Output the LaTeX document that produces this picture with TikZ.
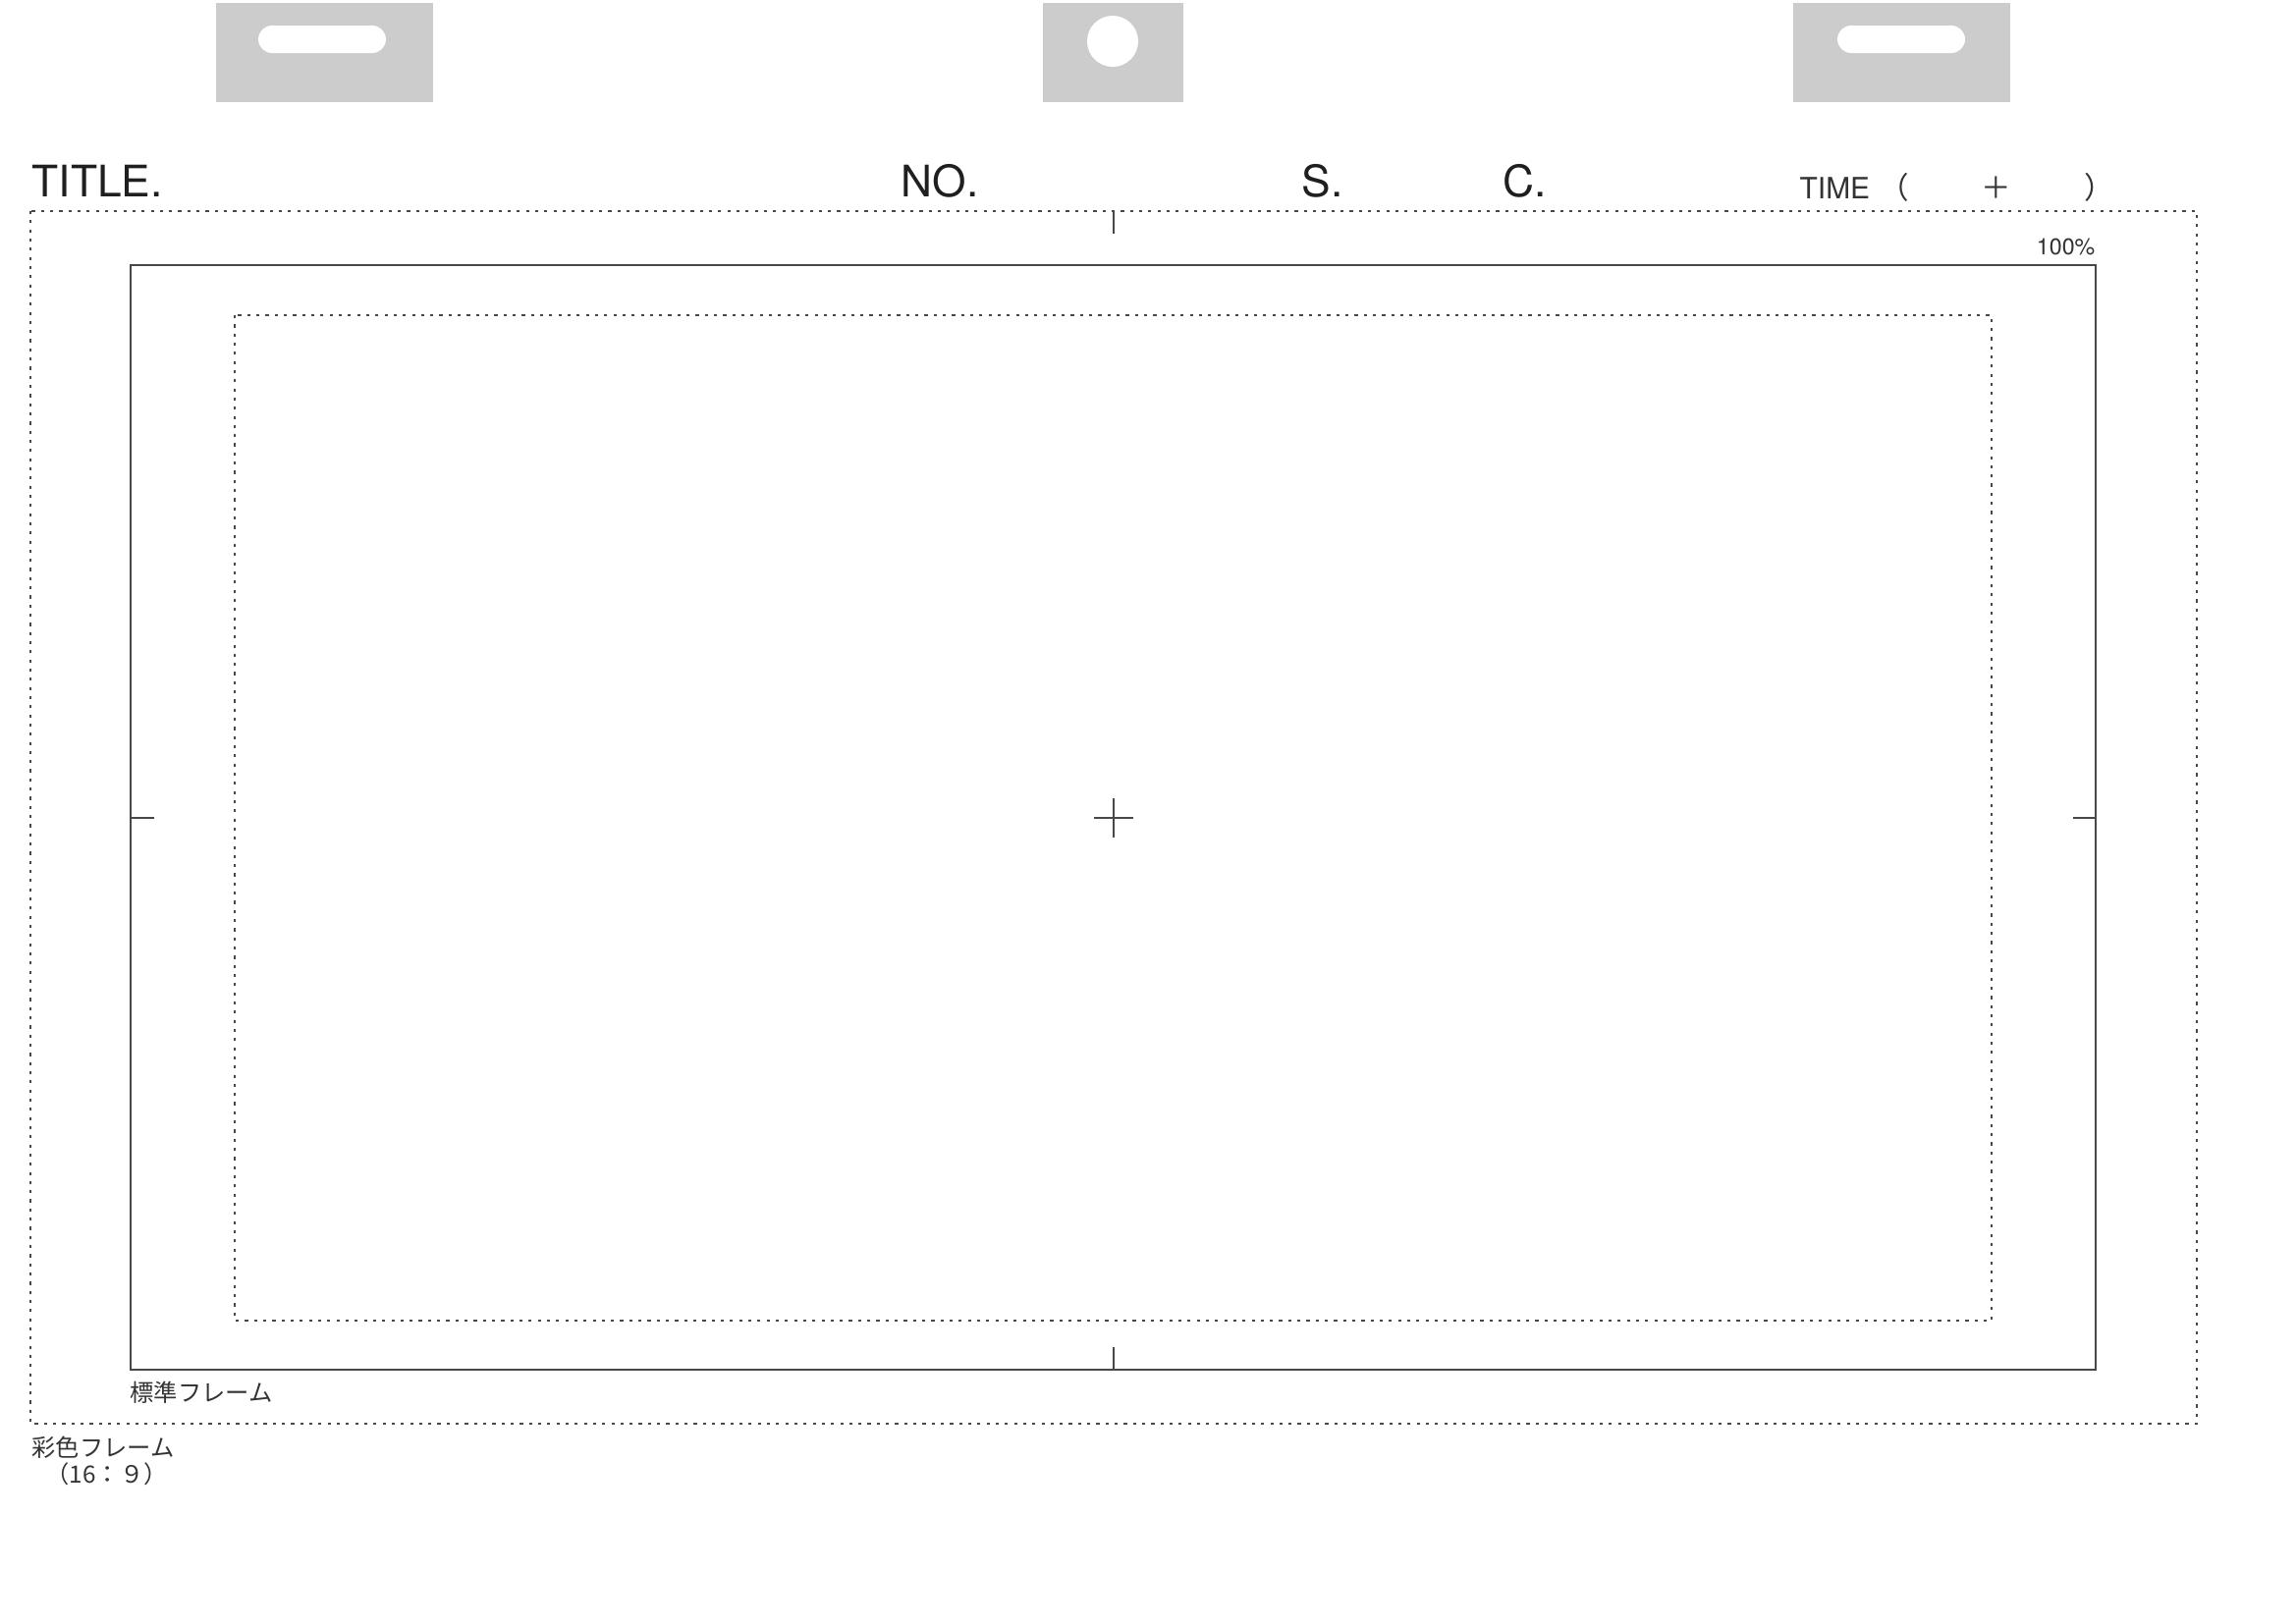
\documentclass[tikz,border=0pt]{standalone}
\usepackage{fontspec}
\setmainfont{TeX Gyre Heros}
\newfontfamily\jpfont{Noto Sans CJK JP}
\definecolor{tabgray}{RGB}{204,204,204}
\definecolor{linegray}{RGB}{72,72,72}

\begin{document}
\begin{tikzpicture}[x=0.01cm, y=-0.01cm,
    tab/.style={fill=tabgray, draw=none},
    hole/.style={fill=white, draw=none},
    frameline/.style={draw=linegray, line width=0.5pt},
    dotline/.style={draw=linegray, line width=0.6pt, dash pattern=on 0.9pt off 1.75pt},
    head/.style={anchor=base west, inner sep=0pt, text=black!88, font=\fontsize{12.6}{15}\selectfont},
    small/.style={anchor=base west, inner sep=0pt, text=black!80, font=\fontsize{8.5}{10}\selectfont},
    note/.style={anchor=base west, inner sep=0pt, text=black!80, font=\jpfont\fontsize{6.9}{8}\selectfont}]
    \useasboundingbox (0,0) rectangle (2338,1653);

    % Hanging tabs
    \fill[tab] (220,3) rectangle (441,104);
    \fill[hole, rounded corners=4pt] (263,26) rectangle (393,54);
    \fill[tab] (1062,3) rectangle (1205,104);
    \fill[hole] (1133,42) circle[radius=0.26cm];
    \fill[tab] (1826,3) rectangle (2047,104);
    \fill[hole, rounded corners=4pt] (1871,26) rectangle (2001,54);

    % Header
    \node[head] (title) at (32,200) {TITLE.};
    \node[head] (no) at (917,200) {NO.};
    \node[head] (s) at (1325,200) {S.};
    \node[head] (c) at (1530,200) {C.};
    \node[small] (time) at (1832,202) {TIME};
    \node[small, font=\jpfont\fontsize{8.7}{10}\selectfont, anchor=base east] (timeopen) at (1945,202) {（};
    \node[small, anchor=base, font=\jpfont\fontsize{8.7}{10}\selectfont] (timeplus) at (2033,202) {＋};
    \node[small, font=\jpfont\fontsize{8.7}{10}\selectfont] (timeclose) at (2122,202) {）};

    % Frames
    \draw[dotline] (31,215) rectangle (2237,1450);
    \draw[frameline] (133,270) rectangle (2134,1395);
    \draw[dotline] (239,321) rectangle (2028,1345);

    % Centre marks
    \coordinate (mid) at (1134,833);
    \draw[frameline] (1114,833) -- (1154,833);
    \draw[frameline] (1134,813) -- (1134,853);
    \draw[frameline] (1134,215) -- (1134,238);
    \draw[frameline] (1134,1372) -- (1134,1395);
    \draw[frameline] (133,833) -- (157,833);
    \draw[frameline] (2111,833) -- (2134,833);

    % Labels
    \node[small, font=\fontsize{6.6}{8}\selectfont, anchor=base east] (full) at (2134,259) {100\%};
    \node[note] (std) at (132,1427) {標準フレーム};
    \node[note] (color) at (32,1483) {彩色フレーム};
    \node[note] (ratio) at (46,1510) {（16：９）};
\end{tikzpicture}
\end{document}
